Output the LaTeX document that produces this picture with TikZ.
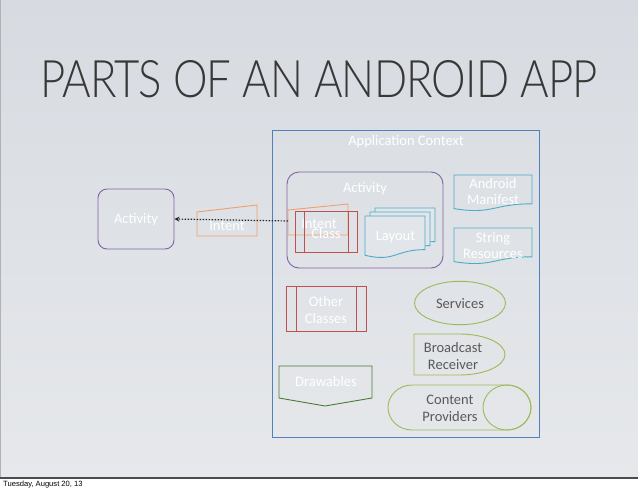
\documentclass[tikz,border=0pt]{standalone}
\usepackage{graphicx}
\usepackage{fontspec}
\setmainfont{Carlito}
\newfontfamily\titlefont{Lato}[UprightFont={* Light}, LetterSpace=-2]
\newfontfamily\datefont{Liberation Sans}
\usetikzlibrary{arrows.meta}
\definecolor{bgtop}{HTML}{D7DBE1}
\definecolor{bgbot}{HTML}{E6E8EB}
\definecolor{bgmid}{HTML}{E2E5E9}
\definecolor{ctxblue}{HTML}{4F81BD}
\definecolor{purp}{HTML}{8064A2}
\definecolor{orng}{HTML}{EFA06A}
\definecolor{redc}{HTML}{C0504D}
\definecolor{tealc}{HTML}{4BACC6}
\definecolor{olive}{HTML}{9BBB59}
\definecolor{dgreen}{HTML}{4A7C34}
\definecolor{txtgray}{HTML}{595959}
\definecolor{titlegray}{HTML}{383838}
\newcommand\docpath[4]{(#1,-#2) -- (#3,-#2) -- (#3,{-#2-0.80*#4}) .. controls ({(#1+#3)/2},{-#2-0.80*#4}) and ({(#1+#3)/2},{-#2-1.107*#4}) .. (#1,{-#2-0.934*#4}) -- cycle}
\tikzset{
  shp/.style={line width=0.9pt},
  wtxt/.style={text=white, font=\fontsize{14.5}{16.5}\selectfont, align=center, inner sep=0pt},
  gtxt/.style={text=txtgray, font=\fontsize{14.5}{16.5}\selectfont, align=center, inner sep=0pt},
  dotarrow/.style={line width=1.2pt, draw=black!85, dash pattern=on 1.3pt off 1.7pt, -{Stealth[length=5pt,width=5pt]}}
}
\begin{document}
\begin{tikzpicture}[x=1pt,y=1pt]
\useasboundingbox (0,0) rectangle (638,-491);
\fill[white] (0,0) rectangle (638,-491);
\shade[top color=bgtop,bottom color=bgbot] (0,0) rectangle (638,-478);
\draw[line width=1pt, black!30] (0.5,0) -- (0.5,-478);
\draw[line width=1.3pt, black!70] (0,-478) -- (638,-478);
\node[anchor=base west, text=titlegray, inner sep=0pt] (title) at (40,-97) {\resizebox{557pt}{37pt}{\titlefont PARTS OF AN ANDROID APP}};
\node[anchor=base west, font=\datefont\fontsize{7.6}{9}\selectfont, inner sep=0pt] (date) at (3,-486.5) {Tuesday, August 20, 13};

% application context
\node[draw=ctxblue, shp, minimum width=267pt, minimum height=307pt, inner sep=0pt] (appctx) at (405.5,-283.5) {};
\node[wtxt] (appctxlbl) at (406,-142) {Application Context};

% inner activity
\node[draw=purp, shp, rounded corners=12pt, minimum width=156pt, minimum height=96pt, inner sep=0pt] (actIn) at (365,-220) {};
\node[wtxt] (actInlbl) at (365,-189) {Activity};

% left activity
\node[draw=purp, shp, rounded corners=9pt, minimum width=76pt, minimum height=60pt, inner sep=0pt] (actL) at (136,-219) {};
\node[wtxt] (actLlbl) at (136,-220) {Activity};

% outer intent
\draw[orng, shp] (197,-212) -- (257,-205) -- (257,-236) -- (197,-236) -- cycle;
\node[wtxt] (intentA) at (227,-226) {Intent};

% inner intent + class
\draw[orng, shp] (288,-210) -- (348,-204) -- (348,-235) -- (288,-235) -- cycle;
\coordinate (intentBw) at (288,-221);
\draw[redc, shp] (295,-211) rectangle (357,-252);
\draw[redc, shp] (304,-211) -- (304,-252) (348,-211) -- (348,-252);
\node[wtxt] (intentB) at (319,-224) {Intent};
\node[wtxt] (classB) at (326,-234) {Class};

% layout stack
\filldraw[tealc, fill=bgmid, shp] \docpath{375}{208}{435}{42};
\filldraw[tealc, fill=bgmid, shp] \docpath{370}{212}{430}{42};
\filldraw[tealc, fill=bgmid, shp] \docpath{365}{216}{425}{42};
\node[wtxt] (layout) at (395.5,-237.5) {Layout};

% manifest & strings
\draw[tealc, shp] \docpath{454}{175}{532}{36};
\node[wtxt] (manifest) at (493,-191.5) {Android\\Manifest};
\draw[tealc, shp] \docpath{454}{228}{532}{36};
\node[wtxt] (strings) at (493,-245.5) {String\\Resources};

% other classes
\draw[redc, shp] (286,-286) rectangle (366,-331);
\draw[redc, shp] (296,-286) -- (296,-331) (356,-286) -- (356,-331);
\node[wtxt] (other) at (326,-310) {Other\\Classes};

% drawables
\draw[dgreen, shp] (279,-366) -- (372,-366) -- (372,-398) -- (325,-406) -- (279,-398) -- cycle;
\node[wtxt] (drawables) at (326,-382) {Drawables};

% services
\draw[olive, shp] (460,-303) ellipse [x radius=45.5, y radius=21.7];
\node[gtxt] (services) at (460,-304) {Services};

% broadcast receiver
\draw[olive, shp] (414,-334) -- (459.5,-334) arc[start angle=90, end angle=-90, x radius=45.5, y radius=20.5] -- (414,-375) -- cycle;
\node[gtxt] (broadcast) at (453,-356) {Broadcast\\Receiver};

% content providers
\draw[olive, shp] (412,-385) -- (507,-385) arc[start angle=90, end angle=-90, x radius=24, y radius=22.5] -- (412,-430) arc[start angle=270, end angle=90, x radius=24, y radius=22.5] -- cycle;
\draw[olive, shp] (507,-407.5) ellipse [x radius=24, y radius=22.5];
\node[gtxt] (content) at (450,-408.5) {Content\\Providers};

% arrow
\draw[dotarrow] (intentBw) -- (actL.east);
\end{tikzpicture}
\end{document}
